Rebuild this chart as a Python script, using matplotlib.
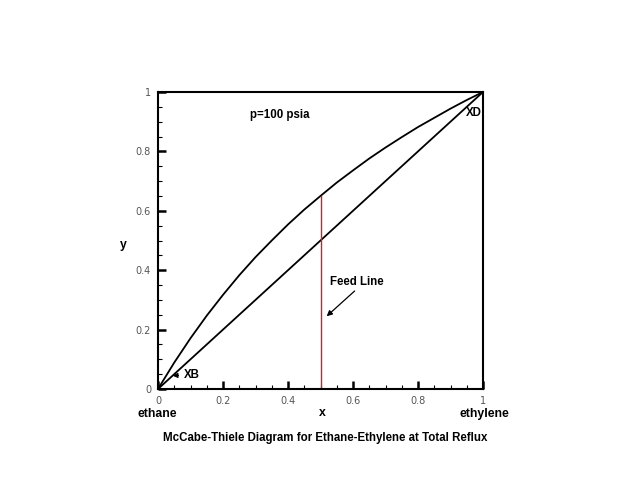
import matplotlib
matplotlib.use("Agg")
import matplotlib.pyplot as plt
from matplotlib.ticker import MultipleLocator

# equilibrium curve
x_eq = [0, 0.05, 0.1, 0.15, 0.2, 0.25, 0.3, 0.35, 0.4, 0.45, 0.5,
        0.55, 0.6, 0.65, 0.7, 0.75, 0.8, 0.85, 0.9, 0.95, 1.0]
y_eq = [0, 0.089, 0.171, 0.247, 0.317, 0.383, 0.444, 0.500, 0.554, 0.604, 0.650,
        0.695, 0.736, 0.776, 0.813, 0.848, 0.882, 0.913, 0.944, 0.973, 1.0]

x_diag = [0, 1]
y_diag = [0, 1]

x_feed = [0.5, 0.5]
y_feed = [0.0, 0.65]

tick_vals = [0, 0.2, 0.4, 0.6, 0.8, 1]
tick_labels = ["0", "0.2", "0.4", "0.6", "0.8", "1"]

plt.rcParams['font.family'] = ['Liberation Sans', 'DejaVu Sans']

fig = plt.figure(figsize=(6.38, 4.78), dpi=100)
ax = fig.add_axes([158 / 638, 1 - 389 / 478, 325 / 638, 297 / 478])

ax.plot(x_eq, y_eq, color='black', lw=1.3)
ax.plot(x_diag, y_diag, color='black', lw=1.3)
ax.plot(x_feed, y_feed, color='#cc2222', lw=1.0)

ax.set_xlim(0, 1)
ax.set_ylim(0, 1)

for s in ax.spines.values():
    s.set_linewidth(1.5)

ax.set_xticks(tick_vals)
ax.set_xticklabels(tick_labels, family='DejaVu Sans')
ax.set_yticks(tick_vals)
ax.set_yticklabels(tick_labels, family='DejaVu Sans')
ax.xaxis.set_minor_locator(MultipleLocator(0.05))
ax.yaxis.set_minor_locator(MultipleLocator(0.05))
ax.tick_params(which='major', direction='in', length=6, width=1.8,
               labelsize=7, labelcolor='#555555', pad=5,
               top=False, right=False)
ax.tick_params(which='minor', direction='in', length=3, width=0.8,
               top=False, right=False)

big = 8.3
ax.text(0.375, 0.922, "p=100 psia", fontsize=big, fontweight='bold',
        ha='center', va='center')
ax.text(0.997, 0.929, "XD", fontsize=big, fontweight='bold', ha='right', va='center')
ax.text(0.53, 0.36, "Feed Line", fontsize=big, fontweight='bold',
        ha='left', va='center')
ax.annotate("", xy=(0.519, 0.245), xytext=(0.605, 0.33),
            arrowprops=dict(arrowstyle='-|>', color='black', lw=0.9,
                            shrinkA=0, shrinkB=0, mutation_scale=8))
ax.annotate("XB", xy=(0.045, 0.045), xytext=(0.08, 0.047),
            fontsize=big, fontweight='bold', ha='left', va='center',
            arrowprops=dict(arrowstyle='-|>', color='black', lw=0.9,
                            shrinkA=2, shrinkB=0, mutation_scale=7))

fig.text(123 / 638, 1 - 245 / 478, "y", fontsize=big + 0.5, fontweight='bold',
         ha='center', va='center')
fig.text(322 / 638, 1 - 413 / 478, "x", fontsize=big + 0.5, fontweight='bold',
         ha='center', va='center')
fig.text(157 / 638, 1 - 414 / 478, "ethane", fontsize=big + 0.5, fontweight='bold',
         ha='center', va='center')
fig.text(484 / 638, 1 - 414 / 478, "ethylene", fontsize=big + 0.5, fontweight='bold',
         ha='center', va='center')
fig.text(325 / 638, 1 - 438 / 478,
         "McCabe-Thiele Diagram for Ethane-Ethylene at Total Reflux",
         fontsize=big, fontweight='bold', ha='center', va='center')

fig.savefig("out.png", dpi=100)
